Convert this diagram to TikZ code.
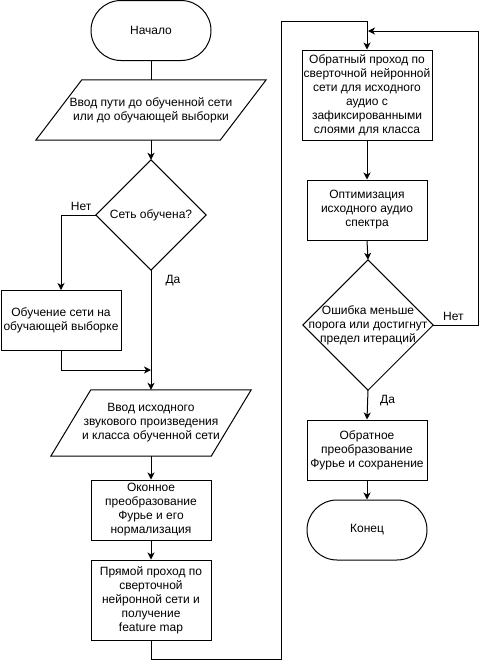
\documentclass[tikz,border=0pt]{standalone}
\usepackage{fontspec}
\setmainfont{Liberation Sans}
\usetikzlibrary{arrows.meta,calc}
\begin{document}
\begin{tikzpicture}[x=1pt,y=-1pt,
  every node/.style={font=\fontsize{12}{14}\selectfont, align=center, inner sep=0pt},
  box/.style={draw, line width=1pt, rectangle},
  term/.style={draw, line width=1pt, rectangle, rounded corners=30pt, minimum width=120pt, minimum height=60pt},
  plain/.style={rectangle, draw=none},
  line/.style={line width=1pt},
  arr/.style={line width=1pt, -{Stealth[length=7pt,width=7pt,inset=2pt]}},
  lbl/.style={font=\fontsize{12}{14}\selectfont}
]
\useasboundingbox (0,0) rectangle (488,670);

% left column
\node[term] (start) at (151,30.5) {Начало};
\node[plain, minimum width=230pt, minimum height=60pt] (p1) at (151,110) {Ввод пути до обученной сети\\или до обучающей выборки};
\draw[line] (p1.south west) -- ([xshift=-46pt]p1.south east) -- (p1.north east) -- ([xshift=46pt]p1.north west) -- cycle;

\node[plain, minimum width=110pt, minimum height=110pt] (d1) at (151,215) {Сеть обучена?};
\draw[line] (d1.north) -- (d1.east) -- (d1.south) -- (d1.west) -- cycle;

\node[box, minimum width=120pt, minimum height=60pt] (b1) at (61,320.5) {Обучение сети на\\обучающей выборке};

\node[plain, minimum width=200pt, minimum height=66pt] (p2) at (151,423) {Ввод исходного\\звукового произведения\\и класса обученной сети};
\draw[line] (p2.south west) -- ([xshift=-40pt]p2.south east) -- (p2.north east) -- ([xshift=40pt]p2.north west) -- cycle;

\node[box, minimum width=120pt, minimum height=60pt] (b2) at (151,510) {Оконное\\преобразование\\Фурье и его\\нормализация};
\node[box, minimum width=120pt, minimum height=80pt] (b3) at (151,600) {Прямой проход по\\сверточной\\нейронной сети и\\получение\\feature map};

% right column
\node[box, minimum width=130pt, minimum height=90pt] (b4) at (367,95) {Обратный проход по\\сверточной нейронной\\сети для исходного\\аудио с\\зафиксированными\\слоями для класса};
\node[box, minimum width=120pt, minimum height=60pt] (b5) at (367,210) {Оптимизация\\исходного аудио\\спектра};
\node[plain, minimum width=130pt, minimum height=130pt] (d2) at (368,325) {Ошибка меньше\\порога или достигнут\\предел итераций};
\draw[line] (d2.north) -- (d2.east) -- (d2.south) -- (d2.west) -- cycle;
\node[box, minimum width=120pt, minimum height=60pt] (b6) at (367,450) {Обратное\\преобразование\\Фурье и сохранение};
\node[term] (end) at (367,530) {Конец};

% helper coordinates
\coordinate (j1) at (151,370);
\coordinate (c1) at (151,659);
\coordinate (c2) at (281,659);
\coordinate (c3) at (281,21);
\coordinate (c4) at (367,21);
\coordinate (r1) at (478,325);
\coordinate (r2) at (478,31);
\coordinate (r3) at (368,31);

% connectors
\draw[line] (start.south) -- (p1.north);
\draw[arr] (p1.south) -- (d1.north);
\draw[arr] (d1.west) -| node[pos=0.21, above=4pt, lbl] {Нет} (b1.north);
\draw[arr] (d1.south) -- node[pos=0.09, anchor=west, xshift=14pt, lbl] {Да} (p2.north);
\draw[arr] (b1.south) |- (j1);
\draw[arr] (p2.south) -- (b2.north);
\draw[arr] (b2.south) -- (b3.north);
\draw[arr] (b3.south) -- (c1) -- (c2) -- (c3) -- (c4) -- (b4.north);
\draw[arr] (b4.south) -- (b5.north);
\draw[arr] (b5.south) -- (d2.north);
\draw[arr] (d2.east) -- node[pos=0.45, above=4pt, lbl] {Нет} (r1) -- (r2) -- (r3);
\draw[arr] (d2.south) -- node[pos=0.35, anchor=west, xshift=12pt, lbl] {Да} (b6.north);
\draw[arr] (b6.south) -- (end.north);
\end{tikzpicture}
\end{document}
